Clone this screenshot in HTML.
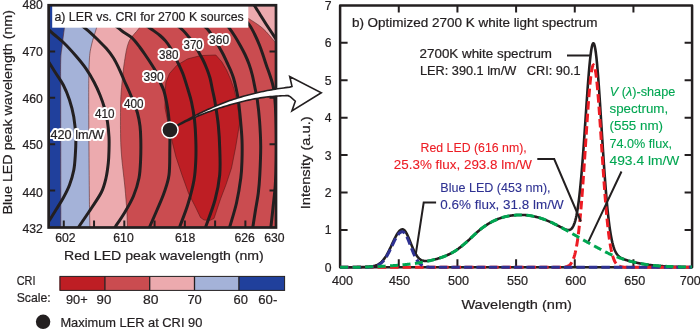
<!DOCTYPE html><html><head><meta charset="utf-8"><style>html,body{margin:0;padding:0;background:#fff;}svg{display:block;}text{font-family:'Liberation Sans',sans-serif;}</style></head><body>
<svg width="700" height="330" viewBox="0 0 700 330">
<defs><clipPath id="ca"><rect x="48.65" y="5.25" width="227.35" height="222.25"/></clipPath>
<clipPath id="cb"><rect x="340.10" y="3.45" width="352.00" height="265.85"/></clipPath></defs>
<g clip-path="url(#ca)">
<rect x="40" y="0" width="245" height="235" fill="#CA4C50"/>
<path d="M152.00,2.00 C151.00,4.17 148.17,10.62 146.00,15.00 C143.83,19.38 141.83,23.90 139.00,28.30 C136.17,32.70 131.42,35.88 129.00,41.40 C126.58,46.92 125.70,54.13 124.50,61.40 C123.30,68.67 122.45,77.73 121.80,85.00 C121.15,92.27 120.80,96.33 120.60,105.00 C120.40,113.67 120.45,128.67 120.60,137.00 C120.75,145.33 121.10,149.50 121.50,155.00 C121.90,160.50 122.47,165.00 123.00,170.00 C123.53,175.00 124.17,179.67 124.70,185.00 C125.23,190.33 125.82,197.17 126.20,202.00 C126.58,206.83 126.78,209.33 127.00,214.00 C127.22,218.67 127.42,227.33 127.50,230.00 L30,230 L30,2 Z" fill="#ECAAAE" stroke="#5a2a2a" stroke-width="0.6"/>
<path d="M103.00,2.00 C102.50,4.17 101.08,10.67 100.00,15.00 C98.92,19.33 97.92,23.00 96.50,28.00 C95.08,33.00 92.70,39.50 91.50,45.00 C90.30,50.50 89.77,51.83 89.30,61.00 C88.83,70.17 88.70,78.50 88.70,100.00 C88.70,121.50 89.10,168.33 89.30,190.00 C89.50,211.67 89.80,223.33 89.90,230.00 L30,230 L30,2 Z" fill="#A4B2D8" stroke="#5a2a2a" stroke-width="0.6"/>
<path d="M69.00,2.00 C68.58,4.17 67.27,10.67 66.50,15.00 C65.73,19.33 65.15,22.67 64.40,28.00 C63.65,33.33 62.62,41.50 62.00,47.00 C61.38,52.50 60.92,52.17 60.70,61.00 C60.48,69.83 60.68,78.50 60.70,100.00 C60.72,121.50 60.78,168.33 60.80,190.00 C60.82,211.67 60.80,223.33 60.80,230.00 L30,230 L30,2 Z" fill="#20409C" stroke="#5a2a2a" stroke-width="0.6"/>
<path d="M236.00,10.00 C238.05,11.38 243.85,15.25 248.30,18.30 C252.75,21.35 258.30,24.40 262.70,28.30 C267.10,32.20 271.82,38.42 274.70,41.70 C277.58,44.98 279.12,46.95 280.00,48.00 L290,48 L290,-5 L236,-5 Z" fill="#ECAAAE" stroke="#5a2a2a" stroke-width="0.6"/>
<path d="M165,108 L165,93.5 L165.9,82.5 L169.5,73.5 L176.8,65.3 L187.7,58.9 L200.5,55.6 L215.8,55 L221.7,61.7 L226.5,70 L230.5,79 L234,89 L236.5,100 L238.5,112 L239.5,124 L235.5,148 L231.5,168 L226,184.6 L220.5,199 L216.5,211 L214,218.5 L210,220.3 L204,220 L200.5,217.5 L195.5,207 L188.7,193.7 L182,175 L176,157 L172.5,143 L170,131 L167,118Z" fill="#BE1E24" stroke="#5a1a1a" stroke-width="0.6"/>
<path d="M45.00,56.00 C46.67,58.67 51.95,67.17 55.00,72.00 C58.05,76.83 60.88,80.33 63.30,85.00 C65.72,89.67 67.75,94.67 69.50,100.00 C71.25,105.33 72.75,110.67 73.80,117.00 C74.85,123.33 75.55,131.67 75.80,138.00 C76.05,144.33 75.63,149.67 75.30,155.00 C74.97,160.33 74.77,165.00 73.80,170.00 C72.83,175.00 71.22,180.42 69.50,185.00 C67.78,189.58 65.67,193.50 63.50,197.50 C61.33,201.50 58.92,205.08 56.50,209.00 C54.08,212.92 51.08,217.83 49.00,221.00 C46.92,224.17 44.83,226.83 44.00,228.00" fill="none" stroke="#231f20" stroke-width="3"/>
<path d="M44.00,25.50 C45.67,27.00 50.63,31.55 54.00,34.50 C57.37,37.45 60.53,39.62 64.20,43.20 C67.87,46.78 72.37,51.77 76.00,56.00 C79.63,60.23 83.00,64.27 86.00,68.60 C89.00,72.93 91.67,77.60 94.00,82.00 C96.33,86.40 98.25,90.67 100.00,95.00 C101.75,99.33 103.25,103.50 104.50,108.00 C105.75,112.50 106.75,117.17 107.50,122.00 C108.25,126.83 108.75,132.33 109.00,137.00 C109.25,141.67 109.12,145.67 109.00,150.00 C108.88,154.33 108.80,158.33 108.30,163.00 C107.80,167.67 107.13,173.17 106.00,178.00 C104.87,182.83 103.92,187.00 101.50,192.00 C99.08,197.00 95.08,202.50 91.50,208.00 C87.92,213.50 82.42,221.33 80.00,225.00 C77.58,228.67 77.50,229.17 77.00,230.00" fill="none" stroke="#231f20" stroke-width="3"/>
<path d="M80.00,24.00 C81.67,25.38 87.00,29.63 90.00,32.30 C93.00,34.97 95.27,37.28 98.00,40.00 C100.73,42.72 103.82,45.60 106.40,48.60 C108.98,51.60 111.40,54.67 113.50,58.00 C115.60,61.33 117.25,64.93 119.00,68.60 C120.75,72.27 122.33,76.27 124.00,80.00 C125.67,83.73 127.42,87.33 129.00,91.00 C130.58,94.67 132.08,98.33 133.50,102.00 C134.92,105.67 136.42,109.00 137.50,113.00 C138.58,117.00 139.45,121.50 140.00,126.00 C140.55,130.50 140.70,134.33 140.80,140.00 C140.90,145.67 140.90,153.67 140.60,160.00 C140.30,166.33 140.18,172.00 139.00,178.00 C137.82,184.00 135.83,190.33 133.50,196.00 C131.17,201.67 128.00,206.92 125.00,212.00 C122.00,217.08 117.50,223.50 115.50,226.50 C113.50,229.50 113.42,229.42 113.00,230.00" fill="none" stroke="#231f20" stroke-width="3"/>
<path d="M112.00,23.00 C113.67,24.33 118.70,28.55 122.00,31.00 C125.30,33.45 128.80,34.95 131.80,37.70 C134.80,40.45 137.63,44.45 140.00,47.50 C142.37,50.55 144.17,53.33 146.00,56.00 C147.83,58.67 149.42,61.00 151.00,63.50 C152.58,66.00 154.08,68.08 155.50,71.00 C156.92,73.92 158.15,77.83 159.50,81.00 C160.85,84.17 162.43,86.50 163.60,90.00 C164.77,93.50 165.68,97.83 166.50,102.00 C167.32,106.17 167.95,110.17 168.50,115.00 C169.05,119.83 169.58,125.17 169.80,131.00 C170.02,136.83 169.93,142.67 169.80,150.00 C169.67,157.33 169.97,167.83 169.00,175.00 C168.03,182.17 166.00,187.17 164.00,193.00 C162.00,198.83 159.33,204.50 157.00,210.00 C154.67,215.50 151.50,222.67 150.00,226.00 C148.50,229.33 148.33,229.33 148.00,230.00" fill="none" stroke="#231f20" stroke-width="3"/>
<path d="M144.00,24.00 C145.45,25.00 150.03,28.08 152.70,30.00 C155.37,31.92 157.87,33.68 160.00,35.50 C162.13,37.32 163.75,38.82 165.50,40.90 C167.25,42.98 168.92,45.32 170.50,48.00 C172.08,50.68 173.58,54.17 175.00,57.00 C176.42,59.83 177.67,62.17 179.00,65.00 C180.33,67.83 181.58,70.17 183.00,74.00 C184.42,77.83 186.08,83.33 187.50,88.00 C188.92,92.67 190.33,96.67 191.50,102.00 C192.67,107.33 193.78,113.67 194.50,120.00 C195.22,126.33 195.58,133.33 195.80,140.00 C196.02,146.67 196.10,153.33 195.80,160.00 C195.50,166.67 195.30,172.67 194.00,180.00 C192.70,187.33 190.33,196.33 188.00,204.00 C185.67,211.67 181.58,221.67 180.00,226.00 C178.42,230.33 178.75,229.33 178.50,230.00" fill="none" stroke="#231f20" stroke-width="3"/>
<path d="M175.00,24.00 C176.28,25.00 180.37,27.78 182.70,30.00 C185.03,32.22 187.12,34.97 189.00,37.30 C190.88,39.63 192.42,41.58 194.00,44.00 C195.58,46.42 197.00,49.13 198.50,51.80 C200.00,54.47 201.67,57.30 203.00,60.00 C204.33,62.70 205.33,65.00 206.50,68.00 C207.67,71.00 209.00,74.33 210.00,78.00 C211.00,81.67 211.67,86.00 212.50,90.00 C213.33,94.00 214.03,96.17 215.00,102.00 C215.97,107.83 217.50,117.00 218.30,125.00 C219.10,133.00 219.57,141.67 219.80,150.00 C220.03,158.33 220.50,166.67 219.70,175.00 C218.90,183.33 217.28,191.50 215.00,200.00 C212.72,208.50 207.75,221.00 206.00,226.00 C204.25,231.00 204.75,229.33 204.50,230.00" fill="none" stroke="#231f20" stroke-width="3"/>
<path d="M200.00,22.00 C201.37,23.33 206.03,27.50 208.20,30.00 C210.37,32.50 211.28,34.33 213.00,37.00 C214.72,39.67 216.83,43.17 218.50,46.00 C220.17,48.83 221.58,51.25 223.00,54.00 C224.42,56.75 225.75,59.83 227.00,62.50 C228.25,65.17 229.42,67.42 230.50,70.00 C231.58,72.58 232.58,75.00 233.50,78.00 C234.42,81.00 235.20,84.33 236.00,88.00 C236.80,91.67 237.55,94.67 238.30,100.00 C239.05,105.33 239.88,113.33 240.50,120.00 C241.12,126.67 241.75,133.33 242.00,140.00 C242.25,146.67 242.20,153.67 242.00,160.00 C241.80,166.33 241.72,170.83 240.80,178.00 C239.88,185.17 238.30,195.00 236.50,203.00 C234.70,211.00 231.25,221.50 230.00,226.00 C228.75,230.50 229.17,229.33 229.00,230.00" fill="none" stroke="#231f20" stroke-width="3"/>
<path d="M224.00,22.00 C224.92,23.07 227.67,25.98 229.50,28.40 C231.33,30.82 233.18,33.62 235.00,36.50 C236.82,39.38 238.73,42.70 240.40,45.70 C242.07,48.70 243.57,51.45 245.00,54.50 C246.43,57.55 247.78,60.58 249.00,64.00 C250.22,67.42 251.30,71.00 252.30,75.00 C253.30,79.00 254.17,83.83 255.00,88.00 C255.83,92.17 256.55,94.67 257.30,100.00 C258.05,105.33 258.93,112.33 259.50,120.00 C260.07,127.67 260.65,136.83 260.70,146.00 C260.75,155.17 260.20,167.17 259.80,175.00 C259.40,182.83 259.02,187.17 258.30,193.00 C257.58,198.83 256.38,204.50 255.50,210.00 C254.62,215.50 253.58,222.67 253.00,226.00 C252.42,229.33 252.17,229.33 252.00,230.00" fill="none" stroke="#231f20" stroke-width="3"/>
<path d="M244.00,19.00 C244.97,20.08 248.05,23.00 249.80,25.50 C251.55,28.00 252.90,30.75 254.50,34.00 C256.10,37.25 257.98,41.50 259.40,45.00 C260.82,48.50 261.87,51.72 263.00,55.00 C264.13,58.28 265.12,61.53 266.20,64.70 C267.28,67.87 268.48,70.97 269.50,74.00 C270.52,77.03 271.55,80.07 272.30,82.90 C273.05,85.73 273.50,87.32 274.00,91.00 C274.50,94.68 274.92,98.50 275.30,105.00 C275.68,111.50 276.13,120.83 276.30,130.00 C276.47,139.17 276.47,150.83 276.30,160.00 C276.13,169.17 275.80,177.50 275.30,185.00 C274.80,192.50 274.02,198.17 273.30,205.00 C272.58,211.83 271.55,221.83 271.00,226.00 C270.45,230.17 270.17,229.33 270.00,230.00" fill="none" stroke="#231f20" stroke-width="3"/>
<path d="M248.00,-3.00 C249.00,-1.67 252.00,2.08 254.00,5.00 C256.00,7.92 258.00,11.33 260.00,14.50 C262.00,17.67 264.00,20.92 266.00,24.00 C268.00,27.08 270.00,30.00 272.00,33.00 C274.00,36.00 276.33,39.50 278.00,42.00 C279.67,44.50 281.33,47.00 282.00,48.00" fill="none" stroke="#231f20" stroke-width="3"/>
</g>
<text x="50.50" y="138.80" font-size="12.2" fill="#fff" text-anchor="start" textLength="53.50" lengthAdjust="spacingAndGlyphs" stroke="#fff" stroke-width="4.2" stroke-linejoin="round">420 lm/W</text>
<text x="50.50" y="138.80" font-size="12.2" fill="#231f20" text-anchor="start" textLength="53.50" lengthAdjust="spacingAndGlyphs" stroke="#231f20" stroke-width="0.22">420 lm/W</text>
<text x="95.00" y="117.50" font-size="12.2" fill="#fff" text-anchor="start" textLength="19.50" lengthAdjust="spacingAndGlyphs" stroke="#fff" stroke-width="4.2" stroke-linejoin="round">410</text>
<text x="95.00" y="117.50" font-size="12.2" fill="#231f20" text-anchor="start" textLength="19.50" lengthAdjust="spacingAndGlyphs" stroke="#231f20" stroke-width="0.22">410</text>
<text x="124.00" y="108.00" font-size="12.2" fill="#fff" text-anchor="start" textLength="19.50" lengthAdjust="spacingAndGlyphs" stroke="#fff" stroke-width="4.2" stroke-linejoin="round">400</text>
<text x="124.00" y="108.00" font-size="12.2" fill="#231f20" text-anchor="start" textLength="19.50" lengthAdjust="spacingAndGlyphs" stroke="#231f20" stroke-width="0.22">400</text>
<text x="143.60" y="81.30" font-size="12.2" fill="#fff" text-anchor="start" textLength="20.00" lengthAdjust="spacingAndGlyphs" stroke="#fff" stroke-width="4.2" stroke-linejoin="round">390</text>
<text x="143.60" y="81.30" font-size="12.2" fill="#231f20" text-anchor="start" textLength="20.00" lengthAdjust="spacingAndGlyphs" stroke="#231f20" stroke-width="0.22">390</text>
<text x="159.10" y="59.10" font-size="12.2" fill="#fff" text-anchor="start" textLength="19.40" lengthAdjust="spacingAndGlyphs" stroke="#fff" stroke-width="4.2" stroke-linejoin="round">380</text>
<text x="159.10" y="59.10" font-size="12.2" fill="#231f20" text-anchor="start" textLength="19.40" lengthAdjust="spacingAndGlyphs" stroke="#231f20" stroke-width="0.22">380</text>
<text x="183.60" y="48.50" font-size="12.2" fill="#fff" text-anchor="start" textLength="19.10" lengthAdjust="spacingAndGlyphs" stroke="#fff" stroke-width="4.2" stroke-linejoin="round">370</text>
<text x="183.60" y="48.50" font-size="12.2" fill="#231f20" text-anchor="start" textLength="19.10" lengthAdjust="spacingAndGlyphs" stroke="#231f20" stroke-width="0.22">370</text>
<text x="209.10" y="43.60" font-size="12.2" fill="#fff" text-anchor="start" textLength="20.00" lengthAdjust="spacingAndGlyphs" stroke="#fff" stroke-width="4.2" stroke-linejoin="round">360</text>
<text x="209.10" y="43.60" font-size="12.2" fill="#231f20" text-anchor="start" textLength="20.00" lengthAdjust="spacingAndGlyphs" stroke="#231f20" stroke-width="0.22">360</text>
<rect x="52.2" y="4" width="196.10" height="23.70" fill="#fff"/>
<text x="54.40" y="21.20" font-size="12.7" fill="#231f20" text-anchor="start" textLength="189.40" lengthAdjust="spacingAndGlyphs" stroke="#231f20" stroke-width="0.22">a) LER vs. CRI for 2700 K sources</text>
<path d="M63.78,227.50 V220.50 M94.05,227.50 V220.50 M124.32,227.50 V220.50 M154.58,227.50 V220.50 M184.85,227.50 V220.50 M215.12,227.50 V220.50 M245.38,227.50 V220.50 M48.65,51.55 H55.15 M276.00,51.55 H269.50 M48.65,97.85 H55.15 M276.00,97.85 H269.50 M48.65,144.16 H55.15 M276.00,144.16 H269.50 M48.65,190.46 H55.15 M276.00,190.46 H269.50" stroke="#231f20" stroke-width="2" fill="none"/>
<rect x="48.65" y="5.25" width="227.35" height="222.25" fill="none" stroke="#231f20" stroke-width="2.7"/>
<text x="42.90" y="9.10" font-size="12.2" fill="#231f20" text-anchor="end" stroke="#231f20" stroke-width="0.22">480</text>
<text x="42.90" y="55.50" font-size="12.2" fill="#231f20" text-anchor="end" stroke="#231f20" stroke-width="0.22">470</text>
<text x="42.90" y="102.70" font-size="12.2" fill="#231f20" text-anchor="end" stroke="#231f20" stroke-width="0.22">460</text>
<text x="42.90" y="149.20" font-size="12.2" fill="#231f20" text-anchor="end" stroke="#231f20" stroke-width="0.22">450</text>
<text x="42.90" y="196.70" font-size="12.2" fill="#231f20" text-anchor="end" stroke="#231f20" stroke-width="0.22">440</text>
<text x="42.90" y="233.30" font-size="12.2" fill="#231f20" text-anchor="end" stroke="#231f20" stroke-width="0.22">432</text>
<text x="65.30" y="241.90" font-size="12.2" fill="#231f20" text-anchor="middle" stroke="#231f20" stroke-width="0.22">602</text>
<text x="123.50" y="241.90" font-size="12.2" fill="#231f20" text-anchor="middle" stroke="#231f20" stroke-width="0.22">610</text>
<text x="185.20" y="241.90" font-size="12.2" fill="#231f20" text-anchor="middle" stroke="#231f20" stroke-width="0.22">618</text>
<text x="244.60" y="241.90" font-size="12.2" fill="#231f20" text-anchor="middle" stroke="#231f20" stroke-width="0.22">626</text>
<text x="274.30" y="241.90" font-size="12.2" fill="#231f20" text-anchor="middle" stroke="#231f20" stroke-width="0.22">630</text>
<text x="64.10" y="259.50" font-size="13.5" fill="#231f20" text-anchor="start" textLength="199.70" lengthAdjust="spacingAndGlyphs" stroke="#231f20" stroke-width="0.22">Red LED peak wavelength (nm)</text>
<text x="12.50" y="214.60" font-size="13.5" fill="#231f20" text-anchor="start" textLength="204.60" lengthAdjust="spacingAndGlyphs" transform="rotate(-90 12.50 214.60)" stroke="#231f20" stroke-width="0.22">Blue LED peak wavelength (nm)</text>
<rect x="59.50" y="276.4" width="45.40" height="14" fill="#BE1E24"/>
<rect x="104.90" y="276.4" width="44.80" height="14" fill="#CA4C50"/>
<rect x="149.70" y="276.4" width="44.80" height="14" fill="#ECAAAE"/>
<rect x="194.50" y="276.4" width="44.40" height="14" fill="#A4B2D8"/>
<rect x="238.90" y="276.4" width="45.70" height="14" fill="#20409C"/>
<rect x="60" y="276.4" width="224.6" height="14" fill="none" stroke="#231f20" stroke-width="1"/>
<line x1="104.9" y1="276.4" x2="104.9" y2="290.4" stroke="#231f20" stroke-width="1.3"/>
<line x1="149.7" y1="276.4" x2="149.7" y2="290.4" stroke="#231f20" stroke-width="1.3"/>
<line x1="194.5" y1="276.4" x2="194.5" y2="290.4" stroke="#231f20" stroke-width="1.3"/>
<line x1="238.9" y1="276.4" x2="238.9" y2="290.4" stroke="#231f20" stroke-width="1.3"/>
<text x="16.70" y="285.10" font-size="13" fill="#231f20" text-anchor="start" textLength="18.80" lengthAdjust="spacingAndGlyphs" stroke="#231f20" stroke-width="0.22">CRI</text>
<text x="16.70" y="302.40" font-size="13" fill="#231f20" text-anchor="start" textLength="34.10" lengthAdjust="spacingAndGlyphs" stroke="#231f20" stroke-width="0.22">Scale:</text>
<text x="66.00" y="303.60" font-size="13" fill="#231f20" text-anchor="start" textLength="21.70" lengthAdjust="spacingAndGlyphs" stroke="#231f20" stroke-width="0.22">90+</text>
<text x="96.60" y="303.60" font-size="13" fill="#231f20" text-anchor="start" textLength="14.70" lengthAdjust="spacingAndGlyphs" stroke="#231f20" stroke-width="0.22">90</text>
<text x="143.10" y="303.60" font-size="13" fill="#231f20" text-anchor="start" textLength="15.50" lengthAdjust="spacingAndGlyphs" stroke="#231f20" stroke-width="0.22">80</text>
<text x="187.40" y="303.60" font-size="13" fill="#231f20" text-anchor="start" textLength="14.40" lengthAdjust="spacingAndGlyphs" stroke="#231f20" stroke-width="0.22">70</text>
<text x="233.60" y="303.60" font-size="13" fill="#231f20" text-anchor="start" textLength="14.40" lengthAdjust="spacingAndGlyphs" stroke="#231f20" stroke-width="0.22">60</text>
<text x="258.30" y="303.60" font-size="13" fill="#231f20" text-anchor="start" textLength="19.00" lengthAdjust="spacingAndGlyphs" stroke="#231f20" stroke-width="0.22">60-</text>
<circle cx="43.1" cy="321.8" r="7.2" fill="#231f20"/>
<text x="60.40" y="326.80" font-size="13" fill="#231f20" text-anchor="start" textLength="141.90" lengthAdjust="spacingAndGlyphs" stroke="#231f20" stroke-width="0.22">Maximum LER at CRI 90</text>
<path d="M398.77,267.30 V259.30 M398.77,5.45 V12.45 M457.43,267.30 V259.30 M457.43,5.45 V12.45 M516.10,267.30 V259.30 M516.10,5.45 V12.45 M574.77,267.30 V259.30 M574.77,5.45 V12.45 M633.43,267.30 V259.30 M633.43,5.45 V12.45 M340.10,229.89 H347.60 M692.10,229.89 H684.60 M340.10,192.49 H347.60 M692.10,192.49 H684.60 M340.10,155.08 H347.60 M692.10,155.08 H684.60 M340.10,117.67 H347.60 M692.10,117.67 H684.60 M340.10,80.26 H347.60 M692.10,80.26 H684.60 M340.10,42.86 H347.60 M692.10,42.86 H684.60" stroke="#231f20" stroke-width="2" fill="none"/>
<rect x="340.1" y="5.45" width="352.00" height="261.85" fill="none" stroke="#231f20" stroke-width="2.5" stroke-linejoin="round"/>
<g clip-path="url(#cb)">
<path d="M340.10,267.28 L340.69,267.28 L341.27,267.27 L341.86,267.27 L342.45,267.27 L343.03,267.27 L343.62,267.27 L344.21,267.27 L344.79,267.27 L345.38,267.26 L345.97,267.26 L346.55,267.26 L347.14,267.26 L347.73,267.25 L348.31,267.25 L348.90,267.25 L349.49,267.24 L350.07,267.24 L350.66,267.23 L351.25,267.23 L351.83,267.23 L352.42,267.22 L353.01,267.22 L353.59,267.21 L354.18,267.21 L354.77,267.20 L355.35,267.20 L355.94,267.19 L356.53,267.18 L357.11,267.17 L357.70,267.17 L358.29,267.16 L358.87,267.15 L359.46,267.14 L360.05,267.13 L360.63,267.11 L361.22,267.10 L361.81,267.08 L362.39,267.07 L362.98,267.05 L363.57,267.03 L364.15,267.01 L364.74,266.98 L365.33,266.95 L365.91,266.92 L366.50,266.89 L367.09,266.86 L367.67,266.82 L368.26,266.77 L368.85,266.72 L369.43,266.67 L370.02,266.61 L370.61,266.54 L371.19,266.46 L371.78,266.37 L372.37,266.27 L372.95,266.16 L373.54,266.03 L374.13,265.89 L374.71,265.73 L375.30,265.55 L375.89,265.35 L376.47,265.13 L377.06,264.87 L377.65,264.59 L378.23,264.28 L378.82,263.94 L379.41,263.55 L379.99,263.13 L380.58,262.67 L381.17,262.16 L381.75,261.61 L382.34,261.01 L382.93,260.37 L383.51,259.67 L384.10,258.91 L384.69,258.11 L385.27,257.25 L385.86,256.35 L386.45,255.39 L387.03,254.38 L387.62,253.32 L388.21,252.22 L388.79,251.08 L389.38,249.90 L389.97,248.68 L390.55,247.44 L391.14,246.19 L391.73,244.91 L392.31,243.63 L392.90,242.36 L393.49,241.09 L394.07,239.85 L394.66,238.64 L395.25,237.46 L395.83,236.33 L396.42,235.26 L397.01,234.25 L397.59,233.32 L398.18,232.47 L398.77,231.71 L399.35,231.04 L399.94,230.48 L400.53,230.03 L401.11,229.68 L401.70,229.45 L402.29,229.34 L402.87,229.37 L403.46,229.59 L404.05,229.97 L404.63,230.53 L405.22,231.24 L405.81,232.10 L406.39,233.10 L406.98,234.21 L407.57,235.43 L408.15,236.73 L408.74,238.10 L409.33,239.52 L409.91,240.97 L410.50,242.44 L411.09,243.91 L411.67,245.36 L412.26,246.78 L412.85,248.16 L413.43,249.48 L414.02,250.75 L414.61,251.94 L415.19,253.06 L415.78,254.10 L416.37,255.06 L416.95,255.93 L417.54,256.73 L418.13,257.44 L418.71,258.07 L419.30,258.63 L419.89,259.12 L420.47,259.53 L421.06,259.89 L421.65,260.18 L422.23,260.42 L422.82,260.62 L423.41,260.76 L423.99,260.87 L424.58,260.95 L425.17,260.99 L425.75,261.00 L426.34,260.99 L426.93,260.96 L427.51,260.91 L428.10,260.84 L428.69,260.76 L429.27,260.66 L429.86,260.56 L430.45,260.44 L431.03,260.32 L431.62,260.19 L432.21,260.06 L432.79,259.92 L433.38,259.78 L433.97,259.64 L434.55,259.50 L435.14,259.35 L435.73,259.20 L436.31,259.04 L436.90,258.88 L437.49,258.71 L438.07,258.54 L438.66,258.36 L439.25,258.18 L439.83,257.99 L440.42,257.80 L441.01,257.61 L441.59,257.41 L442.18,257.20 L442.77,256.99 L443.35,256.77 L443.94,256.54 L444.53,256.31 L445.11,256.07 L445.70,255.83 L446.29,255.58 L446.87,255.32 L447.46,255.06 L448.05,254.79 L448.63,254.51 L449.22,254.23 L449.81,253.94 L450.39,253.64 L450.98,253.33 L451.57,253.02 L452.15,252.70 L452.74,252.38 L453.33,252.05 L453.91,251.71 L454.50,251.35 L455.09,250.99 L455.67,250.62 L456.26,250.23 L456.85,249.83 L457.43,249.41 L458.02,248.98 L458.61,248.55 L459.19,248.10 L459.78,247.65 L460.37,247.19 L460.95,246.72 L461.54,246.25 L462.13,245.78 L462.71,245.30 L463.30,244.82 L463.89,244.33 L464.47,243.83 L465.06,243.33 L465.65,242.82 L466.23,242.31 L466.82,241.79 L467.41,241.27 L467.99,240.75 L468.58,240.21 L469.17,239.67 L469.75,239.11 L470.34,238.56 L470.93,238.00 L471.51,237.44 L472.10,236.88 L472.69,236.33 L473.27,235.78 L473.86,235.23 L474.45,234.68 L475.03,234.14 L475.62,233.59 L476.21,233.04 L476.79,232.49 L477.38,231.96 L477.97,231.43 L478.55,230.91 L479.14,230.41 L479.73,229.92 L480.31,229.45 L480.90,228.99 L481.49,228.53 L482.07,228.09 L482.66,227.66 L483.25,227.23 L483.83,226.81 L484.42,226.40 L485.01,226.00 L485.59,225.60 L486.18,225.21 L486.77,224.82 L487.35,224.45 L487.94,224.08 L488.53,223.72 L489.11,223.36 L489.70,223.02 L490.29,222.68 L490.87,222.35 L491.46,222.03 L492.05,221.72 L492.63,221.42 L493.22,221.13 L493.81,220.84 L494.39,220.57 L494.98,220.30 L495.57,220.04 L496.15,219.78 L496.74,219.53 L497.33,219.29 L497.91,219.06 L498.50,218.83 L499.09,218.61 L499.67,218.40 L500.26,218.20 L500.85,218.00 L501.43,217.81 L502.02,217.62 L502.61,217.44 L503.19,217.27 L503.78,217.11 L504.37,216.95 L504.95,216.80 L505.54,216.65 L506.13,216.52 L506.71,216.38 L507.30,216.26 L507.89,216.14 L508.47,216.03 L509.06,215.92 L509.65,215.82 L510.23,215.72 L510.82,215.64 L511.41,215.55 L511.99,215.48 L512.58,215.41 L513.17,215.34 L513.75,215.28 L514.34,215.23 L514.93,215.17 L515.51,215.13 L516.10,215.08 L516.69,215.05 L517.27,215.01 L517.86,214.99 L518.45,214.97 L519.03,214.95 L519.62,214.94 L520.21,214.93 L520.79,214.93 L521.38,214.93 L521.97,214.94 L522.55,214.96 L523.14,214.98 L523.73,215.00 L524.31,215.03 L524.90,215.07 L525.49,215.11 L526.07,215.16 L526.66,215.21 L527.25,215.28 L527.83,215.34 L528.42,215.42 L529.01,215.50 L529.59,215.59 L530.18,215.68 L530.77,215.77 L531.35,215.88 L531.94,215.98 L532.53,216.10 L533.11,216.21 L533.70,216.34 L534.29,216.46 L534.87,216.60 L535.46,216.74 L536.05,216.88 L536.63,217.03 L537.22,217.19 L537.81,217.35 L538.39,217.51 L538.98,217.68 L539.57,217.86 L540.15,218.04 L540.74,218.23 L541.33,218.42 L541.91,218.61 L542.50,218.82 L543.09,219.02 L543.67,219.23 L544.26,219.45 L544.85,219.67 L545.43,219.89 L546.02,220.12 L546.61,220.35 L547.19,220.59 L547.78,220.83 L548.37,221.08 L548.95,221.33 L549.54,221.58 L550.13,221.84 L550.71,222.11 L551.30,222.38 L551.89,222.65 L552.47,222.93 L553.06,223.21 L553.65,223.50 L554.23,223.79 L554.82,224.08 L555.41,224.37 L555.99,224.67 L556.58,224.96 L557.17,225.27 L557.75,225.57 L558.34,225.88 L558.93,226.18 L559.51,226.49 L560.10,226.80 L560.69,227.11 L561.27,227.41 L561.86,227.71 L562.45,228.00 L563.03,228.29 L563.62,228.57 L564.21,228.84 L564.79,229.09 L565.38,229.33 L565.97,229.54 L566.55,229.72 L567.14,229.86 L567.73,229.96 L568.31,230.01 L568.90,229.99 L569.49,229.89 L570.07,229.70 L570.66,229.39 L571.25,228.96 L571.83,228.38 L572.42,227.63 L573.01,226.67 L573.59,225.50 L574.18,224.07 L574.77,222.36 L575.35,220.33 L575.94,217.97 L576.53,215.24 L577.11,212.10 L577.70,208.54 L578.29,204.53 L578.87,200.06 L579.46,195.10 L580.05,189.66 L580.63,183.73 L581.22,177.32 L581.81,170.46 L582.39,163.16 L582.98,155.48 L583.57,147.44 L584.15,139.13 L584.74,130.61 L585.33,121.95 L585.91,113.26 L586.50,104.63 L587.09,96.16 L587.67,87.96 L588.26,80.14 L588.85,72.82 L589.43,66.10 L590.02,60.08 L590.61,54.85 L591.19,50.52 L591.78,47.13 L592.37,44.76 L592.95,43.45 L593.54,43.22 L594.13,44.08 L594.71,46.02 L595.30,49.02 L595.89,53.04 L596.47,58.01 L597.06,63.87 L597.65,70.52 L598.23,77.88 L598.82,85.85 L599.41,94.31 L599.99,103.15 L600.58,112.26 L601.17,121.53 L601.75,130.86 L602.34,140.15 L602.93,149.31 L603.51,158.26 L604.10,166.93 L604.69,175.25 L605.27,183.18 L605.86,190.68 L606.45,197.71 L607.03,204.27 L607.62,210.33 L608.21,215.90 L608.79,220.98 L609.38,225.60 L609.97,229.75 L610.55,233.48 L611.14,236.81 L611.73,239.76 L612.31,242.37 L612.90,244.66 L613.49,246.66 L614.07,248.42 L614.66,249.94 L615.25,251.26 L615.83,252.41 L616.42,253.40 L617.01,254.26 L617.59,255.01 L618.18,255.66 L618.77,256.22 L619.35,256.72 L619.94,257.16 L620.53,257.55 L621.11,257.91 L621.70,258.22 L622.29,258.51 L622.87,258.78 L623.46,259.03 L624.05,259.27 L624.63,259.49 L625.22,259.70 L625.81,259.90 L626.39,260.09 L626.98,260.28 L627.57,260.46 L628.15,260.63 L628.74,260.81 L629.33,260.97 L629.91,261.14 L630.50,261.30 L631.09,261.45 L631.67,261.60 L632.26,261.75 L632.85,261.90 L633.43,262.04 L634.02,262.18 L634.61,262.32 L635.19,262.45 L635.78,262.58 L636.37,262.71 L636.95,262.83 L637.54,262.95 L638.13,263.07 L638.71,263.19 L639.30,263.31 L639.89,263.42 L640.47,263.53 L641.06,263.64 L641.65,263.74 L642.23,263.85 L642.82,263.95 L643.41,264.05 L643.99,264.14 L644.58,264.24 L645.17,264.33 L645.75,264.42 L646.34,264.51 L646.93,264.60 L647.51,264.68 L648.10,264.76 L648.69,264.84 L649.27,264.92 L649.86,265.00 L650.45,265.07 L651.03,265.14 L651.62,265.21 L652.21,265.28 L652.79,265.35 L653.38,265.41 L653.97,265.47 L654.55,265.53 L655.14,265.59 L655.73,265.65 L656.31,265.70 L656.90,265.75 L657.49,265.80 L658.07,265.85 L658.66,265.89 L659.25,265.94 L659.83,265.98 L660.42,266.02 L661.01,266.06 L661.59,266.10 L662.18,266.14 L662.77,266.17 L663.35,266.21 L663.94,266.24 L664.53,266.27 L665.11,266.30 L665.70,266.33 L666.29,266.36 L666.87,266.39 L667.46,266.42 L668.05,266.45 L668.63,266.48 L669.22,266.51 L669.81,266.53 L670.39,266.56 L670.98,266.59 L671.57,266.61 L672.15,266.64 L672.74,266.66 L673.33,266.68 L673.91,266.71 L674.50,266.73 L675.09,266.75 L675.67,266.77 L676.26,266.79 L676.85,266.81 L677.43,266.83 L678.02,266.84 L678.61,266.86 L679.19,266.88 L679.78,266.89 L680.37,266.91 L680.95,266.92 L681.54,266.93 L682.13,266.95 L682.71,266.96 L683.30,266.97 L683.89,266.98 L684.47,266.99 L685.06,267.00 L685.65,267.02 L686.23,267.03 L686.82,267.04 L687.41,267.05 L687.99,267.05 L688.58,267.06 L689.17,267.07 L689.75,267.08 L690.34,267.08 L690.93,267.09 L691.51,267.09 L692.10,267.09" fill="none" stroke="#231f20" stroke-width="2.6" stroke-linejoin="round"/>
<path d="M340.10,267.30 L340.69,267.30 L341.27,267.30 L341.86,267.30 L342.45,267.30 L343.03,267.30 L343.62,267.30 L344.21,267.30 L344.79,267.30 L345.38,267.30 L345.97,267.30 L346.55,267.30 L347.14,267.30 L347.73,267.30 L348.31,267.30 L348.90,267.30 L349.49,267.30 L350.07,267.30 L350.66,267.30 L351.25,267.30 L351.83,267.30 L352.42,267.30 L353.01,267.30 L353.59,267.30 L354.18,267.30 L354.77,267.30 L355.35,267.30 L355.94,267.30 L356.53,267.30 L357.11,267.30 L357.70,267.30 L358.29,267.30 L358.87,267.30 L359.46,267.30 L360.05,267.30 L360.63,267.30 L361.22,267.30 L361.81,267.30 L362.39,267.30 L362.98,267.30 L363.57,267.30 L364.15,267.30 L364.74,267.30 L365.33,267.30 L365.91,267.30 L366.50,267.30 L367.09,267.30 L367.67,267.30 L368.26,267.30 L368.85,267.30 L369.43,267.30 L370.02,267.30 L370.61,267.30 L371.19,267.30 L371.78,267.30 L372.37,267.30 L372.95,267.30 L373.54,267.30 L374.13,267.30 L374.71,267.30 L375.30,267.30 L375.89,267.30 L376.47,267.30 L377.06,267.30 L377.65,267.30 L378.23,267.30 L378.82,267.30 L379.41,267.30 L379.99,267.30 L380.58,267.30 L381.17,267.30 L381.75,267.30 L382.34,267.30 L382.93,267.30 L383.51,267.30 L384.10,267.30 L384.69,267.30 L385.27,267.30 L385.86,267.30 L386.45,267.30 L387.03,267.30 L387.62,267.30 L388.21,267.30 L388.79,267.30 L389.38,267.30 L389.97,267.30 L390.55,267.30 L391.14,267.30 L391.73,267.30 L392.31,267.30 L392.90,267.30 L393.49,267.30 L394.07,267.30 L394.66,267.30 L395.25,267.30 L395.83,267.30 L396.42,267.30 L397.01,267.30 L397.59,267.30 L398.18,267.30 L398.77,267.30 L399.35,267.30 L399.94,267.30 L400.53,267.30 L401.11,267.30 L401.70,267.30 L402.29,267.30 L402.87,267.30 L403.46,267.30 L404.05,267.30 L404.63,267.30 L405.22,267.30 L405.81,267.30 L406.39,267.30 L406.98,267.30 L407.57,267.30 L408.15,267.30 L408.74,267.30 L409.33,267.30 L409.91,267.30 L410.50,267.30 L411.09,267.30 L411.67,267.30 L412.26,267.30 L412.85,267.30 L413.43,267.30 L414.02,267.30 L414.61,267.30 L415.19,267.30 L415.78,267.30 L416.37,267.30 L416.95,267.30 L417.54,267.30 L418.13,267.30 L418.71,267.30 L419.30,267.30 L419.89,267.30 L420.47,267.30 L421.06,267.30 L421.65,267.30 L422.23,267.30 L422.82,267.30 L423.41,267.30 L423.99,267.30 L424.58,267.30 L425.17,267.30 L425.75,267.30 L426.34,267.30 L426.93,267.30 L427.51,267.30 L428.10,267.30 L428.69,267.30 L429.27,267.30 L429.86,267.30 L430.45,267.30 L431.03,267.30 L431.62,267.30 L432.21,267.30 L432.79,267.30 L433.38,267.30 L433.97,267.30 L434.55,267.30 L435.14,267.30 L435.73,267.30 L436.31,267.30 L436.90,267.30 L437.49,267.30 L438.07,267.30 L438.66,267.30 L439.25,267.30 L439.83,267.30 L440.42,267.30 L441.01,267.30 L441.59,267.30 L442.18,267.30 L442.77,267.30 L443.35,267.30 L443.94,267.30 L444.53,267.30 L445.11,267.30 L445.70,267.30 L446.29,267.30 L446.87,267.30 L447.46,267.30 L448.05,267.30 L448.63,267.30 L449.22,267.30 L449.81,267.30 L450.39,267.30 L450.98,267.30 L451.57,267.30 L452.15,267.30 L452.74,267.30 L453.33,267.30 L453.91,267.30 L454.50,267.30 L455.09,267.30 L455.67,267.30 L456.26,267.30 L456.85,267.30 L457.43,267.30 L458.02,267.30 L458.61,267.30 L459.19,267.30 L459.78,267.30 L460.37,267.30 L460.95,267.30 L461.54,267.30 L462.13,267.30 L462.71,267.30 L463.30,267.30 L463.89,267.30 L464.47,267.30 L465.06,267.30 L465.65,267.30 L466.23,267.30 L466.82,267.30 L467.41,267.30 L467.99,267.30 L468.58,267.30 L469.17,267.30 L469.75,267.30 L470.34,267.30 L470.93,267.30 L471.51,267.30 L472.10,267.30 L472.69,267.30 L473.27,267.30 L473.86,267.30 L474.45,267.30 L475.03,267.30 L475.62,267.30 L476.21,267.30 L476.79,267.30 L477.38,267.30 L477.97,267.30 L478.55,267.30 L479.14,267.30 L479.73,267.30 L480.31,267.30 L480.90,267.30 L481.49,267.30 L482.07,267.30 L482.66,267.30 L483.25,267.30 L483.83,267.30 L484.42,267.30 L485.01,267.30 L485.59,267.30 L486.18,267.30 L486.77,267.30 L487.35,267.30 L487.94,267.30 L488.53,267.30 L489.11,267.30 L489.70,267.30 L490.29,267.30 L490.87,267.30 L491.46,267.30 L492.05,267.30 L492.63,267.30 L493.22,267.30 L493.81,267.30 L494.39,267.30 L494.98,267.30 L495.57,267.30 L496.15,267.30 L496.74,267.30 L497.33,267.30 L497.91,267.30 L498.50,267.30 L499.09,267.30 L499.67,267.30 L500.26,267.30 L500.85,267.30 L501.43,267.30 L502.02,267.30 L502.61,267.30 L503.19,267.30 L503.78,267.30 L504.37,267.30 L504.95,267.30 L505.54,267.30 L506.13,267.30 L506.71,267.30 L507.30,267.30 L507.89,267.30 L508.47,267.30 L509.06,267.30 L509.65,267.30 L510.23,267.30 L510.82,267.30 L511.41,267.30 L511.99,267.30 L512.58,267.30 L513.17,267.30 L513.75,267.30 L514.34,267.30 L514.93,267.30 L515.51,267.30 L516.10,267.30 L516.69,267.30 L517.27,267.30 L517.86,267.30 L518.45,267.30 L519.03,267.30 L519.62,267.30 L520.21,267.30 L520.79,267.30 L521.38,267.30 L521.97,267.30 L522.55,267.30 L523.14,267.30 L523.73,267.30 L524.31,267.30 L524.90,267.30 L525.49,267.30 L526.07,267.30 L526.66,267.30 L527.25,267.30 L527.83,267.30 L528.42,267.30 L529.01,267.30 L529.59,267.30 L530.18,267.30 L530.77,267.30 L531.35,267.30 L531.94,267.30 L532.53,267.30 L533.11,267.30 L533.70,267.30 L534.29,267.30 L534.87,267.30 L535.46,267.30 L536.05,267.30 L536.63,267.30 L537.22,267.30 L537.81,267.30 L538.39,267.30 L538.98,267.30 L539.57,267.30 L540.15,267.30 L540.74,267.30 L541.33,267.30 L541.91,267.30 L542.50,267.30 L543.09,267.30 L543.67,267.30 L544.26,267.30 L544.85,267.30 L545.43,267.30 L546.02,267.30 L546.61,267.30 L547.19,267.30 L547.78,267.30 L548.37,267.30 L548.95,267.30 L549.54,267.30 L550.13,267.30 L550.71,267.30 L551.30,267.30 L551.89,267.30 L552.47,267.30 L553.06,267.30 L553.65,267.30 L554.23,267.30 L554.82,267.30 L555.41,267.30 L555.99,267.30 L556.58,267.30 L557.17,267.29 L557.75,267.29 L558.34,267.29 L558.93,267.28 L559.51,267.28 L560.10,267.27 L560.69,267.26 L561.27,267.24 L561.86,267.22 L562.45,267.20 L563.03,267.16 L563.62,267.12 L564.21,267.06 L564.79,266.99 L565.38,266.90 L565.97,266.78 L566.55,266.64 L567.14,266.45 L567.73,266.22 L568.31,265.93 L568.90,265.58 L569.49,265.15 L570.07,264.62 L570.66,263.99 L571.25,263.22 L571.83,262.30 L572.42,261.21 L573.01,259.92 L573.59,258.41 L574.18,256.64 L574.77,254.60 L575.35,252.24 L575.94,249.54 L576.53,246.46 L577.11,242.99 L577.70,239.10 L578.29,234.75 L578.87,229.94 L579.46,224.65 L580.05,218.87 L580.63,212.61 L581.22,205.87 L581.81,198.67 L582.39,191.03 L582.98,183.01 L583.57,174.65 L584.15,166.00 L584.74,157.15 L585.33,148.16 L585.91,139.14 L586.50,130.18 L587.09,121.39 L587.67,112.86 L588.26,104.72 L588.85,97.08 L589.43,90.03 L590.02,83.69 L590.61,78.15 L591.19,73.49 L591.78,69.79 L592.37,67.10 L592.95,65.47 L593.54,64.93 L594.13,65.47 L594.71,67.10 L595.30,69.79 L595.89,73.49 L596.47,78.15 L597.06,83.69 L597.65,90.03 L598.23,97.08 L598.82,104.72 L599.41,112.86 L599.99,121.39 L600.58,130.18 L601.17,139.14 L601.75,148.16 L602.34,157.15 L602.93,166.00 L603.51,174.65 L604.10,183.01 L604.69,191.03 L605.27,198.67 L605.86,205.87 L606.45,212.61 L607.03,218.87 L607.62,224.65 L608.21,229.94 L608.79,234.75 L609.38,239.10 L609.97,242.99 L610.55,246.46 L611.14,249.54 L611.73,252.24 L612.31,254.60 L612.90,256.64 L613.49,258.41 L614.07,259.92 L614.66,261.21 L615.25,262.30 L615.83,263.22 L616.42,263.99 L617.01,264.62 L617.59,265.15 L618.18,265.58 L618.77,265.93 L619.35,266.22 L619.94,266.45 L620.53,266.64 L621.11,266.78 L621.70,266.90 L622.29,266.99 L622.87,267.06 L623.46,267.12 L624.05,267.16 L624.63,267.20 L625.22,267.22 L625.81,267.24 L626.39,267.26 L626.98,267.27 L627.57,267.28 L628.15,267.28 L628.74,267.29 L629.33,267.29 L629.91,267.29 L630.50,267.30 L631.09,267.30 L631.67,267.30 L632.26,267.30 L632.85,267.30 L633.43,267.30 L634.02,267.30 L634.61,267.30 L635.19,267.30 L635.78,267.30 L636.37,267.30 L636.95,267.30 L637.54,267.30 L638.13,267.30 L638.71,267.30 L639.30,267.30 L639.89,267.30 L640.47,267.30 L641.06,267.30 L641.65,267.30 L642.23,267.30 L642.82,267.30 L643.41,267.30 L643.99,267.30 L644.58,267.30 L645.17,267.30 L645.75,267.30 L646.34,267.30 L646.93,267.30 L647.51,267.30 L648.10,267.30 L648.69,267.30 L649.27,267.30 L649.86,267.30 L650.45,267.30 L651.03,267.30 L651.62,267.30 L652.21,267.30 L652.79,267.30 L653.38,267.30 L653.97,267.30 L654.55,267.30 L655.14,267.30 L655.73,267.30 L656.31,267.30 L656.90,267.30 L657.49,267.30 L658.07,267.30 L658.66,267.30 L659.25,267.30 L659.83,267.30 L660.42,267.30 L661.01,267.30 L661.59,267.30 L662.18,267.30 L662.77,267.30 L663.35,267.30 L663.94,267.30 L664.53,267.30 L665.11,267.30 L665.70,267.30 L666.29,267.30 L666.87,267.30 L667.46,267.30 L668.05,267.30 L668.63,267.30 L669.22,267.30 L669.81,267.30 L670.39,267.30 L670.98,267.30 L671.57,267.30 L672.15,267.30 L672.74,267.30 L673.33,267.30 L673.91,267.30 L674.50,267.30 L675.09,267.30 L675.67,267.30 L676.26,267.30 L676.85,267.30 L677.43,267.30 L678.02,267.30 L678.61,267.30 L679.19,267.30 L679.78,267.30 L680.37,267.30 L680.95,267.30 L681.54,267.30 L682.13,267.30 L682.71,267.30 L683.30,267.30 L683.89,267.30 L684.47,267.30 L685.06,267.30 L685.65,267.30 L686.23,267.30 L686.82,267.30 L687.41,267.30 L687.99,267.30 L688.58,267.30 L689.17,267.30 L689.75,267.30 L690.34,267.30 L690.93,267.30 L691.51,267.30 L692.10,267.30" fill="none" stroke="#ED1C24" stroke-width="3" stroke-dasharray="8.5 4"/>
<path d="M340.10,267.30 L340.69,267.30 L341.27,267.30 L341.86,267.30 L342.45,267.30 L343.03,267.30 L343.62,267.30 L344.21,267.30 L344.79,267.30 L345.38,267.30 L345.97,267.30 L346.55,267.30 L347.14,267.30 L347.73,267.30 L348.31,267.30 L348.90,267.30 L349.49,267.30 L350.07,267.30 L350.66,267.30 L351.25,267.30 L351.83,267.30 L352.42,267.30 L353.01,267.30 L353.59,267.30 L354.18,267.30 L354.77,267.30 L355.35,267.30 L355.94,267.30 L356.53,267.30 L357.11,267.30 L357.70,267.30 L358.29,267.30 L358.87,267.30 L359.46,267.29 L360.05,267.29 L360.63,267.29 L361.22,267.29 L361.81,267.29 L362.39,267.28 L362.98,267.28 L363.57,267.27 L364.15,267.27 L364.74,267.26 L365.33,267.25 L365.91,267.24 L366.50,267.22 L367.09,267.21 L367.67,267.19 L368.26,267.16 L368.85,267.13 L369.43,267.10 L370.02,267.06 L370.61,267.01 L371.19,266.96 L371.78,266.89 L372.37,266.82 L372.95,266.73 L373.54,266.63 L374.13,266.51 L374.71,266.37 L375.30,266.22 L375.89,266.05 L376.47,265.85 L377.06,265.62 L377.65,265.37 L378.23,265.09 L378.82,264.77 L379.41,264.42 L379.99,264.03 L380.58,263.59 L381.17,263.12 L381.75,262.60 L382.34,262.03 L382.93,261.42 L383.51,260.75 L384.10,260.03 L384.69,259.26 L385.27,258.44 L385.86,257.56 L386.45,256.64 L387.03,255.66 L387.62,254.64 L388.21,253.57 L388.79,252.47 L389.38,251.32 L389.97,250.15 L390.55,248.94 L391.14,247.72 L391.73,246.49 L392.31,245.25 L392.90,244.02 L393.49,242.79 L394.07,241.59 L394.66,240.42 L395.25,239.28 L395.83,238.20 L396.42,237.17 L397.01,236.21 L397.59,235.33 L398.18,234.53 L398.77,233.81 L399.35,233.20 L399.94,232.69 L400.53,232.29 L401.11,232.00 L401.70,231.82 L402.29,231.76 L402.87,231.85 L403.46,232.12 L404.05,232.57 L404.63,233.18 L405.22,233.96 L405.81,234.88 L406.39,235.94 L406.98,237.12 L407.57,238.40 L408.15,239.76 L408.74,241.20 L409.33,242.69 L409.91,244.21 L410.50,245.75 L411.09,247.28 L411.67,248.80 L412.26,250.30 L412.85,251.75 L413.43,253.15 L414.02,254.49 L414.61,255.76 L415.19,256.96 L415.78,258.08 L416.37,259.12 L416.95,260.08 L417.54,260.97 L418.13,261.77 L418.71,262.49 L419.30,263.14 L419.89,263.72 L420.47,264.24 L421.06,264.69 L421.65,265.09 L422.23,265.44 L422.82,265.74 L423.41,266.00 L423.99,266.22 L424.58,266.41 L425.17,266.57 L425.75,266.70 L426.34,266.81 L426.93,266.91 L427.51,266.98 L428.10,267.05 L428.69,267.10 L429.27,267.14 L429.86,267.17 L430.45,267.20 L431.03,267.22 L431.62,267.24 L432.21,267.25 L432.79,267.26 L433.38,267.27 L433.97,267.28 L434.55,267.28 L435.14,267.29 L435.73,267.29 L436.31,267.29 L436.90,267.30 L437.49,267.30 L438.07,267.30 L438.66,267.30 L439.25,267.30 L439.83,267.30 L440.42,267.30 L441.01,267.30 L441.59,267.30 L442.18,267.30 L442.77,267.30 L443.35,267.30 L443.94,267.30 L444.53,267.30 L445.11,267.30 L445.70,267.30 L446.29,267.30 L446.87,267.30 L447.46,267.30 L448.05,267.30 L448.63,267.30 L449.22,267.30 L449.81,267.30 L450.39,267.30 L450.98,267.30 L451.57,267.30 L452.15,267.30 L452.74,267.30 L453.33,267.30 L453.91,267.30 L454.50,267.30 L455.09,267.30 L455.67,267.30 L456.26,267.30 L456.85,267.30 L457.43,267.30 L458.02,267.30 L458.61,267.30 L459.19,267.30 L459.78,267.30 L460.37,267.30 L460.95,267.30 L461.54,267.30 L462.13,267.30 L462.71,267.30 L463.30,267.30 L463.89,267.30 L464.47,267.30 L465.06,267.30 L465.65,267.30 L466.23,267.30 L466.82,267.30 L467.41,267.30 L467.99,267.30 L468.58,267.30 L469.17,267.30 L469.75,267.30 L470.34,267.30 L470.93,267.30 L471.51,267.30 L472.10,267.30 L472.69,267.30 L473.27,267.30 L473.86,267.30 L474.45,267.30 L475.03,267.30 L475.62,267.30 L476.21,267.30 L476.79,267.30 L477.38,267.30 L477.97,267.30 L478.55,267.30 L479.14,267.30 L479.73,267.30 L480.31,267.30 L480.90,267.30 L481.49,267.30 L482.07,267.30 L482.66,267.30 L483.25,267.30 L483.83,267.30 L484.42,267.30 L485.01,267.30 L485.59,267.30 L486.18,267.30 L486.77,267.30 L487.35,267.30 L487.94,267.30 L488.53,267.30 L489.11,267.30 L489.70,267.30 L490.29,267.30 L490.87,267.30 L491.46,267.30 L492.05,267.30 L492.63,267.30 L493.22,267.30 L493.81,267.30 L494.39,267.30 L494.98,267.30 L495.57,267.30 L496.15,267.30 L496.74,267.30 L497.33,267.30 L497.91,267.30 L498.50,267.30 L499.09,267.30 L499.67,267.30 L500.26,267.30 L500.85,267.30 L501.43,267.30 L502.02,267.30 L502.61,267.30 L503.19,267.30 L503.78,267.30 L504.37,267.30 L504.95,267.30 L505.54,267.30 L506.13,267.30 L506.71,267.30 L507.30,267.30 L507.89,267.30 L508.47,267.30 L509.06,267.30 L509.65,267.30 L510.23,267.30 L510.82,267.30 L511.41,267.30 L511.99,267.30 L512.58,267.30 L513.17,267.30 L513.75,267.30 L514.34,267.30 L514.93,267.30 L515.51,267.30 L516.10,267.30 L516.69,267.30 L517.27,267.30 L517.86,267.30 L518.45,267.30 L519.03,267.30 L519.62,267.30 L520.21,267.30 L520.79,267.30 L521.38,267.30 L521.97,267.30 L522.55,267.30 L523.14,267.30 L523.73,267.30 L524.31,267.30 L524.90,267.30 L525.49,267.30 L526.07,267.30 L526.66,267.30 L527.25,267.30 L527.83,267.30 L528.42,267.30 L529.01,267.30 L529.59,267.30 L530.18,267.30 L530.77,267.30 L531.35,267.30 L531.94,267.30 L532.53,267.30 L533.11,267.30 L533.70,267.30 L534.29,267.30 L534.87,267.30 L535.46,267.30 L536.05,267.30 L536.63,267.30 L537.22,267.30 L537.81,267.30 L538.39,267.30 L538.98,267.30 L539.57,267.30 L540.15,267.30 L540.74,267.30 L541.33,267.30 L541.91,267.30 L542.50,267.30 L543.09,267.30 L543.67,267.30 L544.26,267.30 L544.85,267.30 L545.43,267.30 L546.02,267.30 L546.61,267.30 L547.19,267.30 L547.78,267.30 L548.37,267.30 L548.95,267.30 L549.54,267.30 L550.13,267.30 L550.71,267.30 L551.30,267.30 L551.89,267.30 L552.47,267.30 L553.06,267.30 L553.65,267.30 L554.23,267.30 L554.82,267.30 L555.41,267.30 L555.99,267.30 L556.58,267.30 L557.17,267.30 L557.75,267.30 L558.34,267.30 L558.93,267.30 L559.51,267.30 L560.10,267.30 L560.69,267.30 L561.27,267.30 L561.86,267.30 L562.45,267.30 L563.03,267.30 L563.62,267.30 L564.21,267.30 L564.79,267.30 L565.38,267.30 L565.97,267.30 L566.55,267.30 L567.14,267.30 L567.73,267.30 L568.31,267.30 L568.90,267.30 L569.49,267.30 L570.07,267.30 L570.66,267.30 L571.25,267.30 L571.83,267.30 L572.42,267.30 L573.01,267.30 L573.59,267.30 L574.18,267.30 L574.77,267.30 L575.35,267.30 L575.94,267.30 L576.53,267.30 L577.11,267.30 L577.70,267.30 L578.29,267.30 L578.87,267.30 L579.46,267.30 L580.05,267.30 L580.63,267.30 L581.22,267.30 L581.81,267.30 L582.39,267.30 L582.98,267.30 L583.57,267.30 L584.15,267.30 L584.74,267.30 L585.33,267.30 L585.91,267.30 L586.50,267.30 L587.09,267.30 L587.67,267.30 L588.26,267.30 L588.85,267.30 L589.43,267.30 L590.02,267.30 L590.61,267.30 L591.19,267.30 L591.78,267.30 L592.37,267.30 L592.95,267.30 L593.54,267.30 L594.13,267.30 L594.71,267.30 L595.30,267.30 L595.89,267.30 L596.47,267.30 L597.06,267.30 L597.65,267.30 L598.23,267.30 L598.82,267.30 L599.41,267.30 L599.99,267.30 L600.58,267.30 L601.17,267.30 L601.75,267.30 L602.34,267.30 L602.93,267.30 L603.51,267.30 L604.10,267.30 L604.69,267.30 L605.27,267.30 L605.86,267.30 L606.45,267.30 L607.03,267.30 L607.62,267.30 L608.21,267.30 L608.79,267.30 L609.38,267.30 L609.97,267.30 L610.55,267.30 L611.14,267.30 L611.73,267.30 L612.31,267.30 L612.90,267.30 L613.49,267.30 L614.07,267.30 L614.66,267.30 L615.25,267.30 L615.83,267.30 L616.42,267.30 L617.01,267.30 L617.59,267.30 L618.18,267.30 L618.77,267.30 L619.35,267.30 L619.94,267.30 L620.53,267.30 L621.11,267.30 L621.70,267.30 L622.29,267.30 L622.87,267.30 L623.46,267.30 L624.05,267.30 L624.63,267.30 L625.22,267.30 L625.81,267.30 L626.39,267.30 L626.98,267.30 L627.57,267.30 L628.15,267.30 L628.74,267.30 L629.33,267.30 L629.91,267.30 L630.50,267.30 L631.09,267.30 L631.67,267.30 L632.26,267.30 L632.85,267.30 L633.43,267.30 L634.02,267.30 L634.61,267.30 L635.19,267.30 L635.78,267.30 L636.37,267.30 L636.95,267.30 L637.54,267.30 L638.13,267.30 L638.71,267.30 L639.30,267.30 L639.89,267.30 L640.47,267.30 L641.06,267.30 L641.65,267.30 L642.23,267.30 L642.82,267.30 L643.41,267.30 L643.99,267.30 L644.58,267.30 L645.17,267.30 L645.75,267.30 L646.34,267.30 L646.93,267.30 L647.51,267.30 L648.10,267.30 L648.69,267.30 L649.27,267.30 L649.86,267.30 L650.45,267.30 L651.03,267.30 L651.62,267.30 L652.21,267.30 L652.79,267.30 L653.38,267.30 L653.97,267.30 L654.55,267.30 L655.14,267.30 L655.73,267.30 L656.31,267.30 L656.90,267.30 L657.49,267.30 L658.07,267.30 L658.66,267.30 L659.25,267.30 L659.83,267.30 L660.42,267.30 L661.01,267.30 L661.59,267.30 L662.18,267.30 L662.77,267.30 L663.35,267.30 L663.94,267.30 L664.53,267.30 L665.11,267.30 L665.70,267.30 L666.29,267.30 L666.87,267.30 L667.46,267.30 L668.05,267.30 L668.63,267.30 L669.22,267.30 L669.81,267.30 L670.39,267.30 L670.98,267.30 L671.57,267.30 L672.15,267.30 L672.74,267.30 L673.33,267.30 L673.91,267.30 L674.50,267.30 L675.09,267.30 L675.67,267.30 L676.26,267.30 L676.85,267.30 L677.43,267.30 L678.02,267.30 L678.61,267.30 L679.19,267.30 L679.78,267.30 L680.37,267.30 L680.95,267.30 L681.54,267.30 L682.13,267.30 L682.71,267.30 L683.30,267.30 L683.89,267.30 L684.47,267.30 L685.06,267.30 L685.65,267.30 L686.23,267.30 L686.82,267.30 L687.41,267.30 L687.99,267.30 L688.58,267.30 L689.17,267.30 L689.75,267.30 L690.34,267.30 L690.93,267.30 L691.51,267.30 L692.10,267.30" fill="none" stroke="#2E3192" stroke-width="3" stroke-dasharray="8.5 4"/>
<path d="M340.10,267.28 L340.69,267.28 L341.27,267.27 L341.86,267.27 L342.45,267.27 L343.03,267.27 L343.62,267.27 L344.21,267.27 L344.79,267.27 L345.38,267.26 L345.97,267.26 L346.55,267.26 L347.14,267.26 L347.73,267.25 L348.31,267.25 L348.90,267.25 L349.49,267.24 L350.07,267.24 L350.66,267.24 L351.25,267.23 L351.83,267.23 L352.42,267.22 L353.01,267.22 L353.59,267.21 L354.18,267.21 L354.77,267.20 L355.35,267.20 L355.94,267.19 L356.53,267.18 L357.11,267.18 L357.70,267.17 L358.29,267.16 L358.87,267.15 L359.46,267.14 L360.05,267.13 L360.63,267.12 L361.22,267.11 L361.81,267.10 L362.39,267.09 L362.98,267.07 L363.57,267.06 L364.15,267.04 L364.74,267.02 L365.33,267.01 L365.91,266.99 L366.50,266.97 L367.09,266.95 L367.67,266.93 L368.26,266.91 L368.85,266.89 L369.43,266.87 L370.02,266.85 L370.61,266.82 L371.19,266.80 L371.78,266.78 L372.37,266.76 L372.95,266.73 L373.54,266.71 L374.13,266.68 L374.71,266.66 L375.30,266.63 L375.89,266.60 L376.47,266.58 L377.06,266.55 L377.65,266.52 L378.23,266.49 L378.82,266.47 L379.41,266.44 L379.99,266.41 L380.58,266.38 L381.17,266.34 L381.75,266.31 L382.34,266.28 L382.93,266.25 L383.51,266.22 L384.10,266.18 L384.69,266.15 L385.27,266.12 L385.86,266.08 L386.45,266.05 L387.03,266.01 L387.62,265.98 L388.21,265.95 L388.79,265.91 L389.38,265.87 L389.97,265.84 L390.55,265.80 L391.14,265.76 L391.73,265.72 L392.31,265.68 L392.90,265.64 L393.49,265.60 L394.07,265.56 L394.66,265.52 L395.25,265.47 L395.83,265.43 L396.42,265.38 L397.01,265.34 L397.59,265.29 L398.18,265.24 L398.77,265.19 L399.35,265.14 L399.94,265.09 L400.53,265.04 L401.11,264.99 L401.70,264.93 L402.29,264.88 L402.87,264.82 L403.46,264.76 L404.05,264.70 L404.63,264.64 L405.22,264.58 L405.81,264.52 L406.39,264.46 L406.98,264.40 L407.57,264.33 L408.15,264.27 L408.74,264.20 L409.33,264.13 L409.91,264.06 L410.50,263.99 L411.09,263.92 L411.67,263.85 L412.26,263.78 L412.85,263.71 L413.43,263.63 L414.02,263.56 L414.61,263.48 L415.19,263.40 L415.78,263.32 L416.37,263.23 L416.95,263.15 L417.54,263.06 L418.13,262.97 L418.71,262.88 L419.30,262.79 L419.89,262.69 L420.47,262.60 L421.06,262.49 L421.65,262.39 L422.23,262.29 L422.82,262.18 L423.41,262.07 L423.99,261.95 L424.58,261.84 L425.17,261.72 L425.75,261.60 L426.34,261.48 L426.93,261.35 L427.51,261.22 L428.10,261.09 L428.69,260.96 L429.27,260.82 L429.86,260.68 L430.45,260.54 L431.03,260.40 L431.62,260.26 L432.21,260.11 L432.79,259.96 L433.38,259.81 L433.97,259.66 L434.55,259.51 L435.14,259.36 L435.73,259.20 L436.31,259.05 L436.90,258.88 L437.49,258.71 L438.07,258.54 L438.66,258.36 L439.25,258.18 L439.83,257.99 L440.42,257.80 L441.01,257.61 L441.59,257.41 L442.18,257.20 L442.77,256.99 L443.35,256.77 L443.94,256.54 L444.53,256.31 L445.11,256.07 L445.70,255.83 L446.29,255.58 L446.87,255.32 L447.46,255.06 L448.05,254.79 L448.63,254.51 L449.22,254.23 L449.81,253.94 L450.39,253.64 L450.98,253.33 L451.57,253.02 L452.15,252.70 L452.74,252.38 L453.33,252.05 L453.91,251.71 L454.50,251.35 L455.09,250.99 L455.67,250.62 L456.26,250.23 L456.85,249.83 L457.43,249.41 L458.02,248.98 L458.61,248.55 L459.19,248.10 L459.78,247.65 L460.37,247.19 L460.95,246.72 L461.54,246.25 L462.13,245.78 L462.71,245.30 L463.30,244.82 L463.89,244.33 L464.47,243.83 L465.06,243.33 L465.65,242.82 L466.23,242.31 L466.82,241.79 L467.41,241.27 L467.99,240.75 L468.58,240.21 L469.17,239.67 L469.75,239.11 L470.34,238.56 L470.93,238.00 L471.51,237.44 L472.10,236.88 L472.69,236.33 L473.27,235.78 L473.86,235.23 L474.45,234.68 L475.03,234.14 L475.62,233.59 L476.21,233.04 L476.79,232.49 L477.38,231.96 L477.97,231.43 L478.55,230.91 L479.14,230.41 L479.73,229.92 L480.31,229.45 L480.90,228.99 L481.49,228.53 L482.07,228.09 L482.66,227.66 L483.25,227.23 L483.83,226.81 L484.42,226.40 L485.01,226.00 L485.59,225.60 L486.18,225.21 L486.77,224.82 L487.35,224.45 L487.94,224.08 L488.53,223.72 L489.11,223.36 L489.70,223.02 L490.29,222.68 L490.87,222.35 L491.46,222.03 L492.05,221.72 L492.63,221.42 L493.22,221.13 L493.81,220.84 L494.39,220.57 L494.98,220.30 L495.57,220.04 L496.15,219.78 L496.74,219.53 L497.33,219.29 L497.91,219.06 L498.50,218.83 L499.09,218.61 L499.67,218.40 L500.26,218.20 L500.85,218.00 L501.43,217.81 L502.02,217.62 L502.61,217.44 L503.19,217.27 L503.78,217.11 L504.37,216.95 L504.95,216.80 L505.54,216.65 L506.13,216.52 L506.71,216.38 L507.30,216.26 L507.89,216.14 L508.47,216.03 L509.06,215.92 L509.65,215.82 L510.23,215.72 L510.82,215.64 L511.41,215.55 L511.99,215.48 L512.58,215.41 L513.17,215.34 L513.75,215.28 L514.34,215.23 L514.93,215.17 L515.51,215.13 L516.10,215.08 L516.69,215.05 L517.27,215.01 L517.86,214.99 L518.45,214.97 L519.03,214.95 L519.62,214.94 L520.21,214.93 L520.79,214.93 L521.38,214.93 L521.97,214.94 L522.55,214.96 L523.14,214.98 L523.73,215.00 L524.31,215.03 L524.90,215.07 L525.49,215.11 L526.07,215.16 L526.66,215.21 L527.25,215.28 L527.83,215.34 L528.42,215.42 L529.01,215.50 L529.59,215.59 L530.18,215.68 L530.77,215.77 L531.35,215.88 L531.94,215.98 L532.53,216.10 L533.11,216.21 L533.70,216.34 L534.29,216.46 L534.87,216.60 L535.46,216.74 L536.05,216.88 L536.63,217.03 L537.22,217.19 L537.81,217.35 L538.39,217.51 L538.98,217.68 L539.57,217.86 L540.15,218.04 L540.74,218.23 L541.33,218.42 L541.91,218.61 L542.50,218.82 L543.09,219.02 L543.67,219.23 L544.26,219.45 L544.85,219.67 L545.43,219.89 L546.02,220.12 L546.61,220.35 L547.19,220.59 L547.78,220.83 L548.37,221.08 L548.95,221.33 L549.54,221.58 L550.13,221.84 L550.71,222.11 L551.30,222.38 L551.89,222.65 L552.47,222.93 L553.06,223.21 L553.65,223.50 L554.23,223.79 L554.82,224.08 L555.41,224.37 L555.99,224.67 L556.58,224.97 L557.17,225.27 L557.75,225.58 L558.34,225.89 L558.93,226.20 L559.51,226.51 L560.10,226.83 L560.69,227.15 L561.27,227.47 L561.86,227.78 L562.45,228.10 L563.03,228.42 L563.62,228.75 L564.21,229.07 L564.79,229.40 L565.38,229.72 L565.97,230.05 L566.55,230.38 L567.14,230.71 L567.73,231.04 L568.31,231.37 L568.90,231.70 L569.49,232.04 L570.07,232.37 L570.66,232.71 L571.25,233.04 L571.83,233.38 L572.42,233.72 L573.01,234.05 L573.59,234.39 L574.18,234.72 L574.77,235.06 L575.35,235.40 L575.94,235.73 L576.53,236.07 L577.11,236.41 L577.70,236.74 L578.29,237.08 L578.87,237.42 L579.46,237.75 L580.05,238.09 L580.63,238.42 L581.22,238.76 L581.81,239.09 L582.39,239.43 L582.98,239.76 L583.57,240.10 L584.15,240.43 L584.74,240.76 L585.33,241.09 L585.91,241.42 L586.50,241.74 L587.09,242.07 L587.67,242.39 L588.26,242.72 L588.85,243.04 L589.43,243.36 L590.02,243.68 L590.61,244.00 L591.19,244.32 L591.78,244.64 L592.37,244.96 L592.95,245.27 L593.54,245.59 L594.13,245.90 L594.71,246.22 L595.30,246.53 L595.89,246.84 L596.47,247.16 L597.06,247.47 L597.65,247.79 L598.23,248.11 L598.82,248.42 L599.41,248.74 L599.99,249.06 L600.58,249.37 L601.17,249.69 L601.75,250.00 L602.34,250.31 L602.93,250.61 L603.51,250.91 L604.10,251.22 L604.69,251.52 L605.27,251.82 L605.86,252.11 L606.45,252.41 L607.03,252.69 L607.62,252.98 L608.21,253.26 L608.79,253.53 L609.38,253.80 L609.97,254.06 L610.55,254.32 L611.14,254.57 L611.73,254.82 L612.31,255.07 L612.90,255.31 L613.49,255.56 L614.07,255.79 L614.66,256.03 L615.25,256.26 L615.83,256.49 L616.42,256.72 L617.01,256.94 L617.59,257.16 L618.18,257.38 L618.77,257.59 L619.35,257.80 L619.94,258.01 L620.53,258.22 L621.11,258.42 L621.70,258.62 L622.29,258.82 L622.87,259.02 L623.46,259.21 L624.05,259.40 L624.63,259.59 L625.22,259.77 L625.81,259.96 L626.39,260.13 L626.98,260.31 L627.57,260.48 L628.15,260.65 L628.74,260.82 L629.33,260.98 L629.91,261.14 L630.50,261.30 L631.09,261.46 L631.67,261.61 L632.26,261.76 L632.85,261.90 L633.43,262.04 L634.02,262.18 L634.61,262.32 L635.19,262.45 L635.78,262.58 L636.37,262.71 L636.95,262.83 L637.54,262.95 L638.13,263.07 L638.71,263.19 L639.30,263.31 L639.89,263.42 L640.47,263.53 L641.06,263.64 L641.65,263.74 L642.23,263.85 L642.82,263.95 L643.41,264.05 L643.99,264.14 L644.58,264.24 L645.17,264.33 L645.75,264.42 L646.34,264.51 L646.93,264.60 L647.51,264.68 L648.10,264.76 L648.69,264.84 L649.27,264.92 L649.86,265.00 L650.45,265.07 L651.03,265.14 L651.62,265.21 L652.21,265.28 L652.79,265.35 L653.38,265.41 L653.97,265.47 L654.55,265.53 L655.14,265.59 L655.73,265.65 L656.31,265.70 L656.90,265.75 L657.49,265.80 L658.07,265.85 L658.66,265.89 L659.25,265.94 L659.83,265.98 L660.42,266.02 L661.01,266.06 L661.59,266.10 L662.18,266.14 L662.77,266.17 L663.35,266.21 L663.94,266.24 L664.53,266.27 L665.11,266.30 L665.70,266.33 L666.29,266.36 L666.87,266.39 L667.46,266.42 L668.05,266.45 L668.63,266.48 L669.22,266.51 L669.81,266.53 L670.39,266.56 L670.98,266.59 L671.57,266.61 L672.15,266.64 L672.74,266.66 L673.33,266.68 L673.91,266.71 L674.50,266.73 L675.09,266.75 L675.67,266.77 L676.26,266.79 L676.85,266.81 L677.43,266.83 L678.02,266.84 L678.61,266.86 L679.19,266.88 L679.78,266.89 L680.37,266.91 L680.95,266.92 L681.54,266.93 L682.13,266.95 L682.71,266.96 L683.30,266.97 L683.89,266.98 L684.47,266.99 L685.06,267.00 L685.65,267.02 L686.23,267.03 L686.82,267.04 L687.41,267.05 L687.99,267.05 L688.58,267.06 L689.17,267.07 L689.75,267.08 L690.34,267.08 L690.93,267.09 L691.51,267.09 L692.10,267.09" fill="none" stroke="#00A651" stroke-width="3" stroke-dasharray="8 4.5"/>
</g>
<text x="331.50" y="271.80" font-size="12.2" fill="#231f20" text-anchor="end" stroke="#231f20" stroke-width="0.22">0</text>
<text x="331.50" y="234.39" font-size="12.2" fill="#231f20" text-anchor="end" stroke="#231f20" stroke-width="0.22">1</text>
<text x="331.50" y="196.99" font-size="12.2" fill="#231f20" text-anchor="end" stroke="#231f20" stroke-width="0.22">2</text>
<text x="331.50" y="159.58" font-size="12.2" fill="#231f20" text-anchor="end" stroke="#231f20" stroke-width="0.22">3</text>
<text x="331.50" y="122.17" font-size="12.2" fill="#231f20" text-anchor="end" stroke="#231f20" stroke-width="0.22">4</text>
<text x="331.50" y="84.76" font-size="12.2" fill="#231f20" text-anchor="end" stroke="#231f20" stroke-width="0.22">5</text>
<text x="331.50" y="47.36" font-size="12.2" fill="#231f20" text-anchor="end" stroke="#231f20" stroke-width="0.22">6</text>
<text x="331.50" y="9.95" font-size="12.2" fill="#231f20" text-anchor="end" stroke="#231f20" stroke-width="0.22">7</text>
<text x="342.50" y="285.00" font-size="12.6" fill="#231f20" text-anchor="middle" stroke="#231f20" stroke-width="0.22">400</text>
<text x="399.40" y="285.00" font-size="12.6" fill="#231f20" text-anchor="middle" stroke="#231f20" stroke-width="0.22">450</text>
<text x="458.60" y="285.00" font-size="12.6" fill="#231f20" text-anchor="middle" stroke="#231f20" stroke-width="0.22">500</text>
<text x="517.50" y="285.00" font-size="12.6" fill="#231f20" text-anchor="middle" stroke="#231f20" stroke-width="0.22">550</text>
<text x="575.80" y="285.00" font-size="12.6" fill="#231f20" text-anchor="middle" stroke="#231f20" stroke-width="0.22">600</text>
<text x="634.80" y="285.00" font-size="12.6" fill="#231f20" text-anchor="middle" stroke="#231f20" stroke-width="0.22">650</text>
<text x="690.30" y="285.00" font-size="12.6" fill="#231f20" text-anchor="middle" stroke="#231f20" stroke-width="0.22">700</text>
<text x="461.40" y="308.60" font-size="13.5" fill="#231f20" text-anchor="start" textLength="110.60" lengthAdjust="spacingAndGlyphs" stroke="#231f20" stroke-width="0.22">Wavelength (nm)</text>
<text x="310.30" y="209.20" font-size="13.5" fill="#231f20" text-anchor="start" textLength="92.80" lengthAdjust="spacingAndGlyphs" transform="rotate(-90 310.30 209.20)" stroke="#231f20" stroke-width="0.22">Intensity (a.u.)</text>
<text x="351.90" y="26.90" font-size="12.5" fill="#231f20" text-anchor="start" textLength="245.60" lengthAdjust="spacingAndGlyphs" stroke="#231f20" stroke-width="0.22">b) Optimized 2700 K white light spectrum</text>
<text x="419.60" y="57.60" font-size="12.5" fill="#231f20" text-anchor="start" textLength="132.40" lengthAdjust="spacingAndGlyphs" stroke="#231f20" stroke-width="0.22">2700K white spectrum</text>
<text x="420.00" y="75.30" font-size="12.5" fill="#231f20" text-anchor="start" textLength="160.60" lengthAdjust="spacingAndGlyphs" stroke="#231f20" stroke-width="0.22">LER: 390.1 lm/W&#160;&#160; CRI: 90.1</text>
<text x="420.60" y="151.80" font-size="12.5" fill="#ED1C24" text-anchor="start" textLength="106.10" lengthAdjust="spacingAndGlyphs" stroke="#ED1C24" stroke-width="0.1">Red LED (616 nm),</text>
<text x="393.80" y="168.50" font-size="12.5" fill="#ED1C24" text-anchor="start" textLength="138.00" lengthAdjust="spacingAndGlyphs" stroke="#ED1C24" stroke-width="0.1">25.3% flux, 293.8 lm/W</text>
<text x="440.30" y="192.00" font-size="12.5" fill="#2E3192" text-anchor="start" textLength="110.30" lengthAdjust="spacingAndGlyphs" stroke="#2E3192" stroke-width="0.1">Blue LED (453 nm),</text>
<text x="440.30" y="209.40" font-size="12.5" fill="#2E3192" text-anchor="start" textLength="123.30" lengthAdjust="spacingAndGlyphs" stroke="#2E3192" stroke-width="0.1">0.6% flux, 31.8 lm/W</text>
<text x="609.8" y="95.6" font-size="12.5" fill="#00A651" stroke="#00A651" stroke-width="0.1" textLength="65.5" lengthAdjust="spacingAndGlyphs"><tspan font-style="italic">V</tspan> (<tspan font-style="italic">λ</tspan>)-shape</text>
<text x="609.50" y="112.60" font-size="12.5" fill="#00A651" text-anchor="start" textLength="58.70" lengthAdjust="spacingAndGlyphs" stroke="#00A651" stroke-width="0.1">spectrum,</text>
<text x="609.50" y="130.00" font-size="12.5" fill="#00A651" text-anchor="start" textLength="53.50" lengthAdjust="spacingAndGlyphs" stroke="#00A651" stroke-width="0.1">(555 nm)</text>
<text x="609.50" y="147.50" font-size="12.5" fill="#00A651" text-anchor="start" textLength="62.50" lengthAdjust="spacingAndGlyphs" stroke="#00A651" stroke-width="0.1">74.0% flux,</text>
<text x="609.50" y="164.80" font-size="12.5" fill="#00A651" text-anchor="start" textLength="69.90" lengthAdjust="spacingAndGlyphs" stroke="#00A651" stroke-width="0.1">493.4 lm/W</text>
<path d="M567,55.6 H591 M537.3,159 H554.2 L580.9,221.5 M436.1,202.5 H423.7 L415.8,254 M621.5,171.5 L588.5,241.4" stroke="#231f20" stroke-width="2" fill="none"/>
<path d="M176.40,125.82 L178.16,124.80 L179.93,123.79 L181.70,122.79 L183.47,121.80 L185.26,120.82 L187.05,119.85 L188.84,118.89 L190.64,117.94 L192.45,116.99 L194.26,116.06 L196.08,115.14 L197.90,114.23 L199.73,113.34 L201.56,112.45 L203.40,111.57 L205.24,110.70 L207.09,109.85 L208.95,109.00 L210.81,108.17 L212.68,107.36 L214.55,106.55 L216.42,105.75 L218.30,104.96 L220.19,104.18 L222.08,103.42 L223.98,102.67 L225.89,101.96 L227.81,101.28 L229.74,100.61 L231.67,99.95 L233.61,99.31 L235.55,98.69 L237.50,98.07 L239.45,97.48 L241.41,96.89 L243.37,96.32 L245.33,95.76 L247.30,95.22 L249.28,94.70 L251.26,94.19 L253.24,93.70 L255.23,93.21 L257.22,92.74 L259.22,92.28 L261.22,91.83 L263.23,91.41 L265.24,91.00 L267.26,90.59 L269.28,90.21 L271.30,89.84 L273.33,89.49 L275.36,89.15 L277.40,88.82 L279.45,88.51 L281.49,88.21 L283.55,87.93 L285.60,87.65 L287.66,87.37 L289.73,87.10 L292.00,86.40 L289.7,76.5 L321.3,92.8 L291.9,110.9 L295.30,101.20 L290.50,96.90 L288.19,95.67 L286.18,95.66 L284.18,95.69 L282.18,95.76 L280.18,95.85 L278.18,95.96 L276.19,96.09 L274.19,96.24 L272.20,96.43 L270.21,96.62 L268.22,96.84 L266.23,97.08 L264.25,97.34 L262.27,97.62 L260.29,97.91 L258.32,98.23 L256.34,98.56 L254.37,98.91 L252.41,99.29 L250.45,99.69 L248.49,100.10 L246.53,100.53 L244.58,100.98 L242.63,101.44 L240.68,101.91 L238.74,102.41 L236.80,102.92 L234.86,103.45 L232.93,104.00 L231.00,104.56 L229.07,105.13 L227.15,105.72 L225.23,106.31 L223.30,106.89 L221.38,107.49 L219.46,108.10 L217.54,108.73 L215.63,109.37 L213.72,110.03 L211.82,110.71 L209.93,111.40 L208.03,112.10 L206.14,112.82 L204.26,113.55 L202.38,114.30 L200.50,115.06 L198.63,115.84 L196.77,116.63 L194.91,117.44 L193.05,118.25 L191.20,119.08 L189.36,119.92 L187.52,120.78 L185.69,121.65 L183.86,122.53 L182.03,123.43 L180.22,124.33 L178.40,125.25 L176.60,126.18Z" fill="#fff" stroke="#231f20" stroke-width="1.6" stroke-linejoin="miter"/>
<circle cx="170" cy="130" r="8.1" fill="#231f20" stroke="#fff" stroke-width="1.5"/>
</svg></body></html>
